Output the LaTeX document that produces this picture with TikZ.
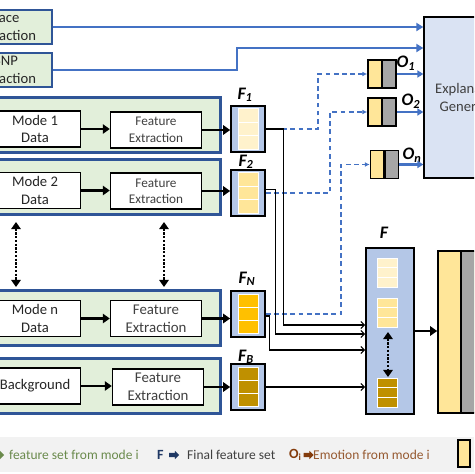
\documentclass[tikz,border=0pt]{standalone}
\usepackage{fontspec}
\setmainfont{Carlito}
\usepackage{xcolor}
\usepackage{tikz}
\usetikzlibrary{arrows.meta}
\usetikzlibrary{positioning, shapes.arrows}
\definecolor{panelgreen}{HTML}{E2EFDA}
\definecolor{panelblue}{HTML}{2F5597}
\definecolor{lineblue}{HTML}{4472C4}
\definecolor{setblue}{HTML}{B4C7E7}
\definecolor{explblue}{HTML}{DAE3F3}
\definecolor{cellpale}{HTML}{FFF2CC}
\definecolor{cellyellow}{HTML}{FFE699}
\definecolor{cellorange}{HTML}{FFC000}
\definecolor{cellbrown}{HTML}{BF9000}
\definecolor{emogrey}{HTML}{A6A6A6}
\definecolor{legendgrey}{HTML}{F2F2F2}
\definecolor{legendgreen}{HTML}{6A8A4C}
\definecolor{navy}{HTML}{1F3864}
\definecolor{brownish}{HTML}{843C0C}
\definecolor{textdark}{HTML}{262626}
\definecolor{textgrey}{HTML}{404040}
\tikzset{
panel/.style = { rectangle, draw = panelblue, fill = panelgreen, line width = 2.4pt, minimum width = 7.23cm, minimum height = 1.65cm },
src box/.style = { rectangle, draw = panelblue, fill = panelgreen, line width = 2.4pt, minimum width = 2.76cm, minimum height = 1.02cm, inner sep = 0pt, align = center, text = textdark, font = \fontsize{12.5}{15.3}\selectfont },
data box/.style = { rectangle, draw = black, fill = white, line width = 1.2pt, minimum width = 2.73cm, minimum height = 1.08cm, inner sep = 0pt, align = center, text = textdark, font = \fontsize{12.5}{15.3}\selectfont },
fe box/.style = { rectangle, draw = black, fill = white, line width = 1.2pt, minimum width = 2.73cm, minimum height = 1.08cm, inner sep = 0pt, align = center, text = textgrey, font = \fontsize{11.3}{14}\selectfont },
feat set/.style = { rectangle, draw = black, fill = setblue, line width = 1.4pt, minimum width = 1.02cm, minimum height = 1.38cm },
set label/.style = { inner sep = 0pt, text = black, font = \fontsize{15}{15}\selectfont\bfseries\itshape },
expl box/.style = { rectangle, draw = black, fill = explblue, line width = 1.2pt, minimum width = 2.76cm, minimum height = 4.83cm, align = center, text = textgrey, font = \fontsize{12.5}{16}\selectfont },
emo/.style = { rectangle, draw = black, fill = cellyellow, line width = 1.4pt, minimum width = 0.84cm, minimum height = 0.84cm, inner sep = 0pt,
        path picture = {
        \fill[emogrey] (path picture bounding box.north) rectangle (path picture bounding box.south east);
        \draw[line width = 1.8pt] (path picture bounding box.north) -- (path picture bounding box.south);
        } },
res box/.style = { rectangle, draw = black, fill = cellyellow, line width = 1.4pt, minimum width = 2.46cm, minimum height = 4.86cm,
        path picture = {
        \fill[emogrey] ([xshift = 0.69cm]path picture bounding box.south west) rectangle (path picture bounding box.north east);
        \draw[line width = 1.2pt] ([xshift = 0.69cm]path picture bounding box.south west) -- ([xshift = 0.69cm]path picture bounding box.north west);
        } },
bus/.style = { draw = lineblue, line width = 2.4pt, -{Triangle[length = 6pt, width = 7pt]} },
emo link/.style = { draw = lineblue, line width = 2pt, -{Triangle[length = 5pt, width = 6pt]} },
dash link/.style = { draw = lineblue, line width = 1.2pt, dash pattern = on 4pt off 3pt, -{Latex[length = 4pt, width = 4pt]} },
thick link/.style = { draw = black, line width = 2.2pt, -{Triangle[length = 6pt, width = 8pt]} },
thin link/.style = { draw = black, line width = 1pt, -{Straight Barb[length = 3pt, width = 6pt]} },
dotlink/.style = { draw = black, line width = 2pt, dash pattern = on 2pt off 1.2pt, {Triangle[length = 6pt, width = 8pt]}-{Triangle[length = 6pt, width = 8pt]} },
legend text/.style = { anchor = west, inner sep = 0pt, font = \fontsize{11.5}{13}\selectfont },
legend arrow/.style = { single arrow, draw = none, minimum height = 0.3cm, minimum width = 0.24cm, single arrow head extend = 0.06cm, inner sep = 1.7pt },
}
\tikzset{
pics/cells/.style args={#1, #2}{
        code = {
        \path[draw = white, line width = 0.6pt, fill = #1] (-10, -1.5*#2) rectangle (10, -0.5*#2);
        \path[draw = white, line width = 0.6pt, fill = #1] (-10, -0.5*#2) rectangle (10, 0.5*#2);
        \path[draw = white, line width = 0.6pt, fill = #1] (-10, 0.5*#2) rectangle (10, 1.5*#2);
        }
    }
}
\begin{document}
\begin{tikzpicture}[x = 0.03cm, y = -0.03cm]
      \useasboundingbox (0, 0) rectangle (474, 474);
      \clip (0, 0) rectangle (474, 474);
      % other sources
      \node[src box] (face) at (6, 27) {Face\\Extraction};
      \node[src box] (snp) at (6, 70) {SNP\\Extraction};
      % modes
      \node[panel] (mode1) at (100, 125) {};
      \node[panel] (mode2) at (100, 187) {};
      \node[panel] (moden) at (100, 318) {};
      \node[panel] (bgpanel) at (100, 386) {};
      \node[data box] (data1) at (35, 129) {Mode 1\\Data};
      \node[data box] (data2) at (35, 190.5) {Mode 2\\Data};
      \node[data box] (datan) at (35, 318.5) {Mode n\\Data};
      \node[data box] (databg) at (35, 386) {Background};
      \node[fe box] (fe1) at (156, 130) {Feature\\Extraction};
      \node[fe box] (fe2) at (156, 191) {Feature\\Extraction};
      \node[fe box, font = \fontsize{12.7}{15}\selectfont] (fen) at (156, 318.5) {Feature\\Extraction};
      \node[fe box, font = \fontsize{12.7}{15}\selectfont] (febg) at (158, 387) {Feature\\Extraction};
      \coordinate (dots a top) at (16, 222);
      \coordinate (dots a bot) at (16, 287);
      \coordinate (dots b top) at (164, 222);
      \coordinate (dots b bot) at (164, 287);
      % feature sets
      \node[feat set] (f1) at (248, 129) {};
      \node[feat set] (f2) at (248, 193) {};
      \node[feat set] (fn) at (248, 314) {};
      \node[feat set] (fb) at (248, 387) {};
      \draw (f1.center) pic{cells = {cellpale, 13.5}};
      \draw (f2.center) pic{cells = {cellyellow, 13.5}};
      \draw (fn.center) pic{cells = {cellorange, 13}};
      \draw (fb.center) pic{cells = {cellbrown, 13}};
      \node[set label] (f1lab) at (245, 95) {F\textsubscript{1}};
      \node[set label] (f2lab) at (246, 162) {F\textsubscript{2}};
      \node[set label] (fnlab) at (247, 279) {F\textsubscript{N}};
      \node[set label] (fblab) at (246, 357) {F\textsubscript{B}};
      % emotions
      \node[expl box] (expl) at (470, 97.5) {Explanation\\Generator};
      \node[emo] (o1) at (382, 74) {};
      \node[emo] (o2) at (382, 112) {};
      \node[emo] (on) at (384.5, 164.5) {};
      \node[set label] (o1lab) at (406, 63) {O\textsubscript{1}};
      \node[set label] (o2lab) at (411, 101) {O\textsubscript{2}};
      \node[set label] (onlab) at (412, 155) {O\textsubscript{n}};
      % final feature set
      \node[feat set, minimum width = 1.44cm, minimum height = 4.98cm] (fbig) at (390, 331) {};
      \node[set label] (fbiglab) at (384, 233) {F};
      \draw (387, 272.5) pic{cells = {cellpale, 9.7}};
      \draw (387, 312.5) pic{cells = {cellyellow, 9.7}};
      \draw (387, 392.5) pic{cells = {cellbrown, 9.7}};
      \coordinate (gap top) at (388, 332);
      \coordinate (gap bot) at (388, 377);
      \node[res box] (res) at (479, 332) {};
      % connectors
      \draw[bus] (face.east) -- (face.east -| expl.west);
      \coordinate (snp bend) at (237, 48);
      \draw[bus] (snp.east) -| (snp bend) -- (snp bend -| expl.west);
      \draw[thick link] (data1.east) -- (data1.east -| fe1.west);
      \draw[thick link] (data2.east) -- (data2.east -| fe2.west);
      \draw[thick link] (datan.east) -- (datan.east -| fen.west);
      \draw[thick link] (databg.east) -- (databg.east -| febg.west);
      \draw[thick link] (fe1.east) -- (fe1.east -| f1.west);
      \draw[thick link] (fe2.east) -- (fe2.east -| f2.west);
      \draw[thick link] (fen.east) -- (fen.east -| fn.west);
      \draw[thick link] (febg.east) -- (febg.east -| fb.west);
      \draw[dotlink] (dots a top) -- (dots a bot);
      \draw[dotlink] (dots b top) -- (dots b bot);
      \draw[dash link] (f1.east) -- ++(52, 0) |- (o1.west);
      \draw[dash link] (f2.east) -- ++(64, 0) |- (o2.west);
      \draw[dash link] (fn.east) -- ++(75, 0) |- (on.west);
      \draw[emo link] (o1.east) -- (o1.east -| expl.west);
      \draw[emo link] (o2.east) -- (o2.east -| expl.west);
      \draw[emo link] (on.east) -- (on.east -| expl.west);
      \draw[thin link] (f1.east) -- ++(18, 0) |- ([yshift = 0.18cm]fbig.west);
      \draw[thin link] ([yshift = 0.1cm]f2.east) -- ++(10, 0) |- ([yshift = -0.09cm]fbig.west);
      \draw[thin link] ([yshift = -0.06cm]fn.east) -- ++(4, 0) |- ([yshift = -0.57cm]fbig.west);
      \draw[thin link] (fb.east) -- (fb.east -| fbig.west);
      \draw[dotlink] (gap top) -- (gap bot);
      \draw[thick link] (fbig.east) -- (fbig.east -| res.west);
      % legend
      \node[rectangle, fill = legendgrey, minimum width = 14.22cm, minimum height = 1.05cm] (legend) at (237, 454.5) {};
      \node[legend arrow, fill = legendgreen] (leg arrow a) at (-2, 455) {};
      \node[legend text, text = legendgreen] (leg set) at (9, 455) {feature set from mode i};
      \node[legend text, text = navy, font = \fontsize{12}{13}\selectfont\bfseries] (leg f) at (157, 455) {F};
      \node[legend arrow, fill = navy] (leg arrow b) at (173, 455) {};
      \node[legend text, text = textgrey] (leg final) at (187, 455) {Final feature set};
      \node[legend text, text = brownish, font = \fontsize{12}{13}\selectfont\bfseries] (leg o) at (289, 455) {O\textsubscript{i}};
      \node[legend arrow, fill = brownish] (leg arrow c) at (307.5, 455) {};
      \node[legend text, text = brownish!85!white] (leg emo) at (313, 455) {Emotion from mode i};
      \node[rectangle, draw = black, fill = cellyellow, line width = 1.4pt, minimum width = 0.36cm, minimum height = 0.81cm] (leg swatch) at (464, 453.5) {};
    \end{tikzpicture}
\end{document}
